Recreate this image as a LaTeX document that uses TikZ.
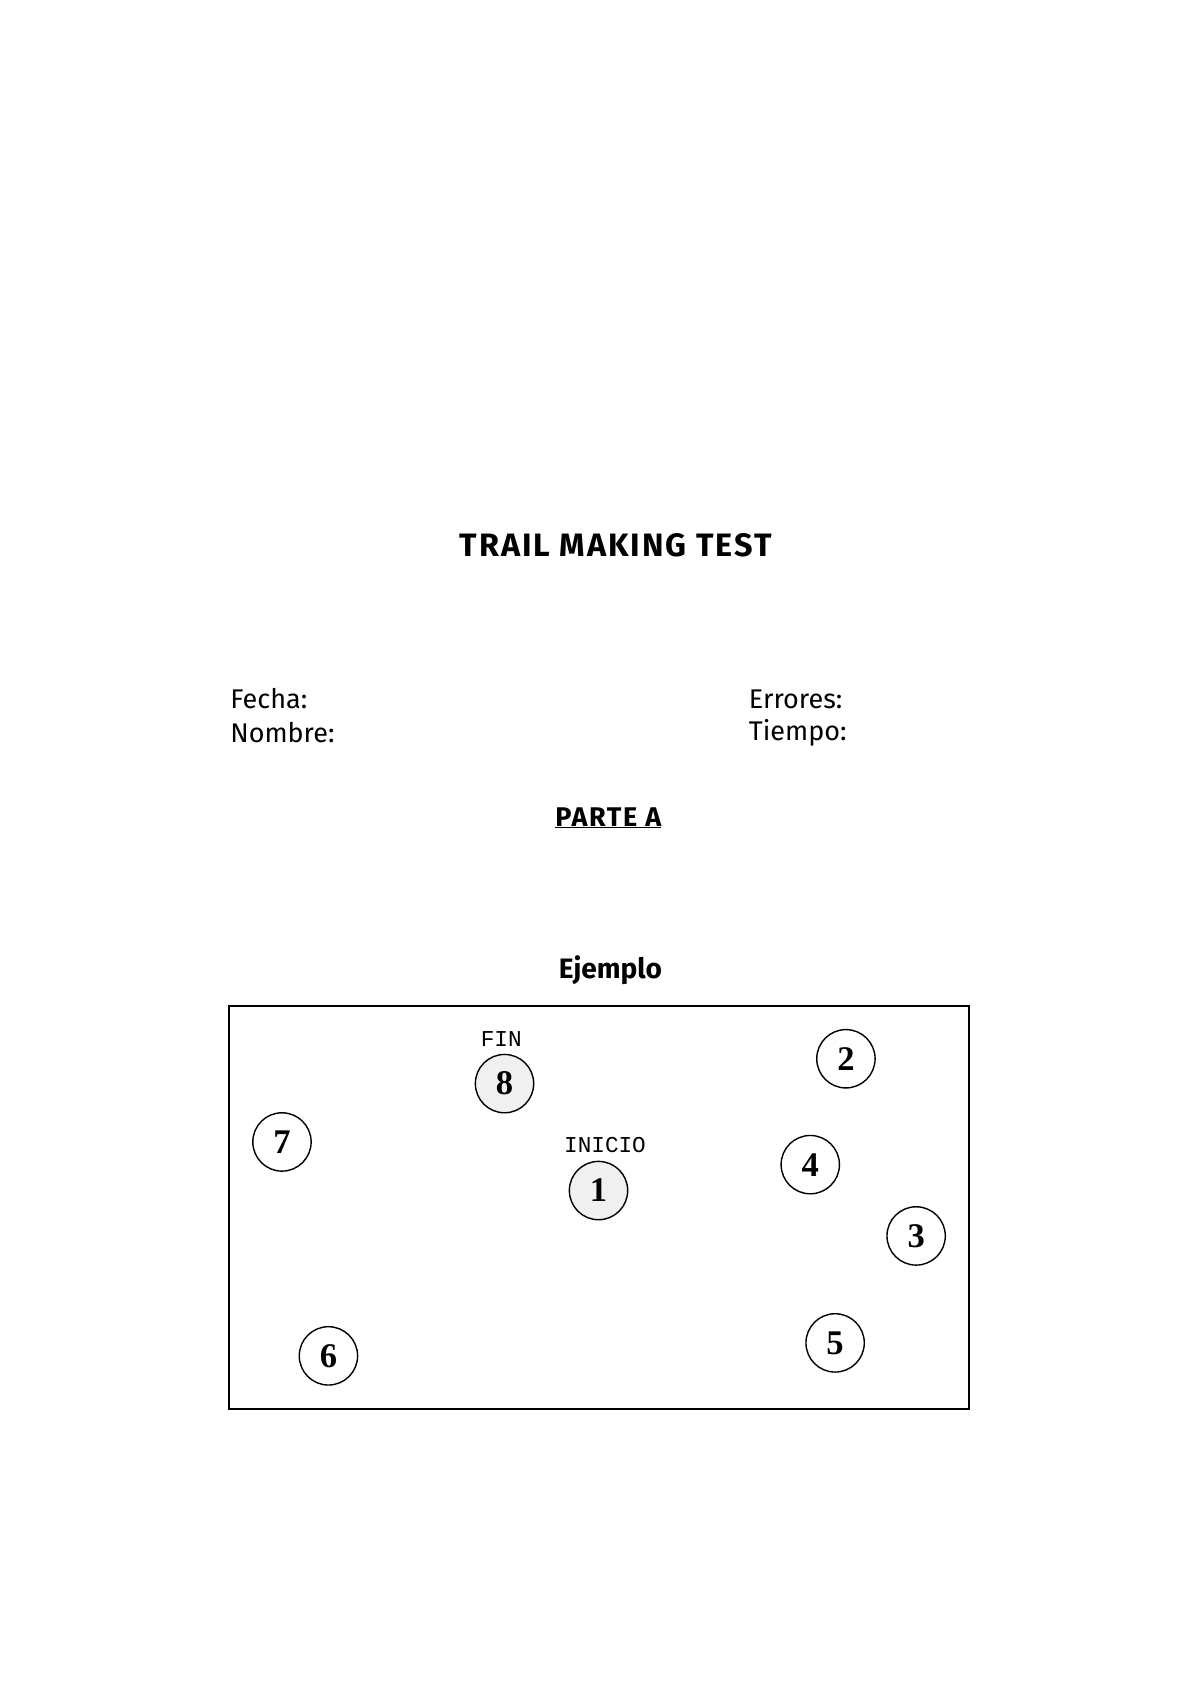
\documentclass[tikz,border=0pt]{standalone}
\usepackage{fontspec}
\setmainfont{Liberation Serif}
\newfontfamily\hand{Fira Sans}
\newfontfamily\handw[LetterSpace=6]{Fira Sans}
\newfontfamily\monof{Liberation Mono}
\begin{document}
\begin{tikzpicture}[x=1pt,y=-1pt,
  lbl/.style={font=\hand\fontsize{25}{28}\selectfont,anchor=west,inner sep=0},
  num/.style={circle,draw,line width=1.3pt,minimum size=54pt,inner sep=0,font=\bfseries\fontsize{32}{32}\selectfont},
  gnum/.style={num,fill=gray!12},
  tag/.style={font=\monof\fontsize{21}{21}\selectfont,inner sep=0}]
\useasboundingbox[fill=white] (0,0) rectangle (1110,1568);
\node[font=\handw\bfseries\fontsize{30}{32}\selectfont] (title) at (570,505) {TRAIL MAKING TEST};
\node[lbl] (fecha) at (213,647) {Fecha:};
\node[lbl] (nombre) at (213,678) {Nombre:};
\node[lbl] (err) at (693,647) {Errores:};
\node[lbl] (tiempo) at (693,678) {Tiempo:};
\node[font=\handw\bfseries\fontsize{25}{28}\selectfont] (parte) at (563,757) {\underline{PARTE A}};
\node[font=\hand\bfseries\fontsize{26}{28}\selectfont] (ej) at (565,898) {Ejemplo};
\draw[line width=1.3pt] (212,931) rectangle (897,1304);
\node[tag] (fin) at (464,962) {FIN};
\node[tag] (inicio) at (560,1060) {INICIO};
\node[num] (n2) at (783,980) {2};
\node[gnum] (n8) at (467,1003) {8};
\node[num] (n7) at (261,1057) {7};
\node[gnum] (n1) at (554,1102) {1};
\node[num] (n4) at (750,1078) {4};
\node[num] (n3) at (848,1144) {3};
\node[num] (n6) at (304,1255) {6};
\node[num] (n5) at (773,1243) {5};
\end{tikzpicture}
\end{document}
